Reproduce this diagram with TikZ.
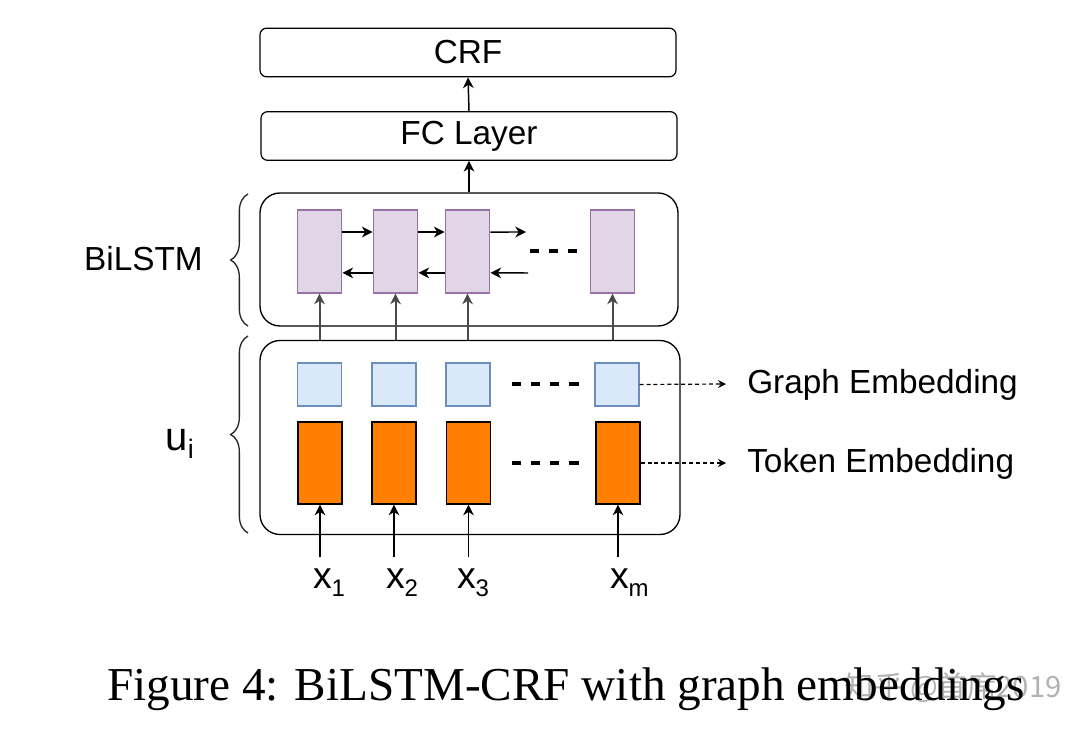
\documentclass[tikz,border=0pt]{standalone}
\usepackage{fontspec}
\setmainfont{Liberation Sans}
\newfontfamily\capfont{Liberation Serif}
\newfontfamily\cjkfont{Noto Sans CJK SC}
\usetikzlibrary{arrows.meta,decorations.pathreplacing}
\definecolor{pfill}{HTML}{E1D5E7}
\definecolor{pdraw}{HTML}{9673A6}
\definecolor{bfill}{HTML}{DAE8FC}
\definecolor{bdraw}{HTML}{6C8EBF}
\definecolor{ofill}{HTML}{FF8000}
\definecolor{garrow}{HTML}{4A4A4A}
\begin{document}
\begin{tikzpicture}[x=0.75pt,y=-0.75pt,
  layerbox/.style={draw, rounded corners=5pt, line width=0.9pt, inner sep=0pt, minimum width=312pt, minimum height=36.5pt, font=\fontsize{25}{25}\selectfont},
  cont/.style={draw, rounded corners=15pt, line width=1pt, inner sep=0pt},
  lstm/.style={draw=pdraw, fill=pfill, line width=0.9pt, minimum width=33.5pt, minimum height=62.25pt, inner sep=0pt},
  gemb/.style={draw=bdraw, fill=bfill, line width=0.9pt, minimum width=33pt, minimum height=32.25pt, inner sep=0pt},
  temb/.style={draw=black, fill=ofill, line width=0.9pt, minimum width=33pt, minimum height=61.5pt, inner sep=0pt},
  arr/.style={-{Stealth[length=8pt,width=8pt,inset=2.5pt]}, line width=1.1pt},
  garr/.style={-{Stealth[length=8pt,width=8pt,inset=2.5pt]}, line width=1.5pt, draw=garrow},
  dasharr/.style={-{Stealth[length=6pt,width=6pt,inset=2pt]}, line width=0.9pt, dash pattern=on 3pt off 2.2pt},
  dots/.style={line width=2.6pt, dash pattern=on 7pt off 7.3pt},
  lbl/.style={inner sep=0pt, font=\fontsize{25}{25}\selectfont},
  xlbl/.style={inner sep=0pt, outer sep=0pt, text height=15pt, text depth=6pt, font=\fontsize{28}{28}\selectfont},
  brc/.style={draw=black!85, line width=1pt, decorate, decoration={brace, amplitude=13pt}},
]
\useasboundingbox (0,0) rectangle (1092,738);

% top layers
\node[layerbox] (crf) at (468,52.5) {CRF};
\node[layerbox] (fc) at (469,136) {FC Layer};

% containers
\node[cont, minimum width=313.5pt, minimum height=99.75pt] (bl) at (469,259.5) {};
\node[cont, minimum width=315pt, minimum height=145.5pt] (uc) at (470,437.5) {};

% LSTM cells
\node[lstm] (p1) at (319.5,251.5) {};
\node[lstm] (p2) at (395.5,251.5) {};
\node[lstm] (p3) at (467.5,251.5) {};
\node[lstm] (p4) at (612.5,251.5) {};

% graph embeddings
\node[gemb] (g1) at (319.5,384.5) {};
\node[gemb] (g2) at (394,384.5) {};
\node[gemb] (g3) at (468,384.5) {};
\node[gemb] (g4) at (617,384.5) {};

% token embeddings
\node[temb] (o1) at (320,463) {};
\node[temb] (o2) at (394,463) {};
\node[temb] (o3) at (468.5,463) {};
\node[temb] (o4) at (618,463) {};

% layer arrows
\draw[arr] (fc.north) -- (crf.south);
\draw[arr] (bl.north) -- (fc.south);

% LSTM forward / backward
\coordinate (f3) at (526,232);
\coordinate (b3) at (528,273);
\draw[arr] ([yshift=14.6pt]p1.east) -- ([yshift=14.6pt]p2.west);
\draw[arr] ([yshift=14.6pt]p2.east) -- ([yshift=14.6pt]p3.west);
\draw[arr] ([yshift=14.6pt]p3.east) -- (f3);
\draw[arr] ([yshift=-16pt]p2.west) -- ([yshift=-16pt]p1.east);
\draw[arr] ([yshift=-16pt]p3.west) -- ([yshift=-16pt]p2.east);
\draw[arr] (b3) -- ([yshift=-16pt]p3.east);
\draw[dots] (530,251) -- (579,251);

% embedding dots
\draw[dots] (512,384) -- (579,384);
\draw[dots] (512,463) -- (579,463);

% u -> LSTM arrows
\draw[garr] (p1 |- uc.north) -- (p1.south);
\draw[garr] (p2 |- uc.north) -- (p2.south);
\draw[garr] (p3 |- uc.north) -- (p3.south);
\draw[garr] (p4 |- uc.north) -- (p4.south);

% side labels
\node[lbl, anchor=base west] (gl) at (747,393) {Graph Embedding};
\node[lbl, anchor=base west] (tl) at (747,472) {Token Embedding};
\coordinate (ge) at (726,384);
\coordinate (te) at (726,463);
\draw[dasharr] (g4.east) -- (ge);
\draw[dasharr] (o4.east) -- (te);

% inputs
\node[xlbl, anchor=base west] (x1) at (313,588) {x\raisebox{-6pt}{\fontsize{18}{18}\selectfont 1}};
\node[xlbl, anchor=base west] (x2) at (386,588) {x\raisebox{-6pt}{\fontsize{18}{18}\selectfont 2}};
\node[xlbl, anchor=base west] (x3) at (457,588) {x\raisebox{-6pt}{\fontsize{18}{18}\selectfont 3}};
\node[xlbl, anchor=base west] (xm) at (610,588) {x\raisebox{-6pt}{\fontsize{18}{18}\selectfont m}};
\draw[arr, shorten <=8pt] (x1.north -| o1) -- (o1.south);
\draw[arr, shorten <=8pt] (x2.north -| o2) -- (o2.south);
\draw[arr, shorten <=8pt] (x3.north -| o3) -- (o3.south);
\draw[arr, shorten <=8pt] (xm.north -| o4) -- (o4.south);

% braces
\draw[brc] (248,326) -- (248,194);
\draw[brc] (248,533) -- (248,336);
\node[lbl, anchor=base east] (bil) at (203,270) {BiLSTM};
\node[lbl, anchor=base east, font=\fontsize{30}{30}\selectfont] (ui) at (194,450) {u\raisebox{-6pt}{\fontsize{20}{20}\selectfont i}};

% caption
\node[inner sep=0pt, anchor=base, font=\capfont\fontsize{35.4}{40}\selectfont] (cap) at (566,700) {Figure 4: BiLSTM-CRF with graph embeddings};
\node[inner sep=0pt, anchor=base east, text=black, opacity=0.3, font=\cjkfont\fontsize{22}{22}\selectfont] (wm) at (1062,697) {知乎 @首席2019};
\end{tikzpicture}
\end{document}
